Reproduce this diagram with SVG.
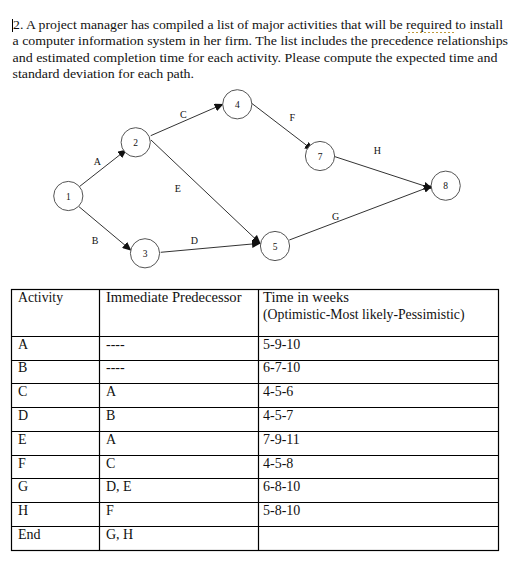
<svg xmlns="http://www.w3.org/2000/svg" width="512" height="567" viewBox="0 0 512 567">
<style>
text{font-family:"Liberation Serif","Times New Roman",serif;fill:#111}
.t{font-size:13px}
.r{font-size:14px}
.n{font-size:9.5px;text-anchor:middle}
.l{font-size:10px;text-anchor:middle}
.c{fill:#fff;stroke:#555;stroke-width:1}
.e{stroke:#333;stroke-width:1;fill:none;marker-end:url(#ah)}
.g{stroke:#000;stroke-width:1.2;fill:none}
</style>
<defs>
<marker id="ah" markerUnits="userSpaceOnUse" markerWidth="9" markerHeight="8" refX="8" refY="4" orient="auto">
<path d="M0,0 L9,4 L0,8 Z" fill="#111"/>
</marker>
</defs>
<rect width="512" height="567" fill="#fff"/>
<g id="title">
<line x1="12.5" y1="19" x2="12.5" y2="32" stroke="#000" stroke-width="1"/>
<text class="t" x="13" y="29" textLength="490" lengthAdjust="spacingAndGlyphs">2. A project manager has compiled a list of major activities that will be required to install</text>
<text class="t" x="12.5" y="45.3" textLength="495.5" lengthAdjust="spacingAndGlyphs">a computer information system in her firm. The list includes the precedence relationships</text>
<text class="t" x="12.5" y="61.5" textLength="485" lengthAdjust="spacingAndGlyphs">and estimated completion time for each activity. Please compute the expected time and</text>
<text class="t" x="12.5" y="77.7" textLength="181.5" lengthAdjust="spacingAndGlyphs">standard deviation for each path.</text>
<line x1="408" y1="32.5" x2="455" y2="32.5" stroke="#c09a3a" stroke-width="1" stroke-dasharray="2,2"/>
</g>
<g id="connectors">
<line class="e" x1="79.3" y1="186.7" x2="126" y2="150"/>
<line class="e" x1="79" y1="206.7" x2="130.7" y2="250"/>
<line class="e" x1="150.7" y1="135.7" x2="222.7" y2="104.3"/>
<line class="e" x1="151" y1="140" x2="260" y2="243.3"/>
<line class="e" x1="160.7" y1="252.3" x2="260" y2="243.3"/>
<line class="e" x1="251.7" y1="103.3" x2="312.7" y2="150"/>
<line class="e" x1="335" y1="156.7" x2="431.7" y2="188.3"/>
<line class="e" x1="289.3" y1="240" x2="431.7" y2="186"/>
<text class="l" x="97.3" y="165">A</text>
<text class="l" x="95" y="244">B</text>
<text class="l" x="183.3" y="117.5">C</text>
<text class="l" x="177.7" y="192">E</text>
<text class="l" x="194.3" y="244">D</text>
<text class="l" x="292.3" y="121">F</text>
<text class="l" x="377.3" y="153.5">H</text>
<text class="l" x="335.7" y="220">G</text>
</g>
<g id="node1"><circle class="c" cx="68.3" cy="196" r="14.6"/><text class="n" x="68.3" y="199.5">1</text></g>
<g id="node2"><circle class="c" cx="135.7" cy="142.3" r="14.6"/><text class="n" x="135.7" y="145.8">2</text></g>
<g id="node3"><circle class="c" cx="145" cy="253.3" r="14.6"/><text class="n" x="145" y="256.8">3</text></g>
<g id="node4"><circle class="c" cx="237.3" cy="104.3" r="14.6"/><text class="n" x="237.3" y="107.8">4</text></g>
<g id="node5"><circle class="c" cx="275" cy="246" r="14.6"/><text class="n" x="275" y="249.5">5</text></g>
<g id="node7"><circle class="c" cx="320" cy="156" r="14.6"/><text class="n" x="320" y="159.5">7</text></g>
<g id="node8"><circle class="c" cx="445.7" cy="185.7" r="14.6"/><text class="n" x="445.7" y="189.2">8</text></g>
<g id="table">
<rect class="g" x="11.5" y="289.5" width="487" height="261"/>
<line class="g" x1="99.5" y1="289.5" x2="99.5" y2="550.5"/>
<line class="g" x1="258.5" y1="289.5" x2="258.5" y2="550.5"/>
<line class="g" x1="11.5" y1="336.5" x2="498.5" y2="336.5"/>
<line class="g" x1="11.5" y1="360.5" x2="498.5" y2="360.5"/>
<line class="g" x1="11.5" y1="383.5" x2="498.5" y2="383.5"/>
<line class="g" x1="11.5" y1="407.5" x2="498.5" y2="407.5"/>
<line class="g" x1="11.5" y1="431.5" x2="498.5" y2="431.5"/>
<line class="g" x1="11.5" y1="455.5" x2="498.5" y2="455.5"/>
<line class="g" x1="11.5" y1="478.5" x2="498.5" y2="478.5"/>
<line class="g" x1="11.5" y1="502.5" x2="498.5" y2="502.5"/>
<line class="g" x1="11.5" y1="526.5" x2="498.5" y2="526.5"/>
<text class="r" x="18" y="302.3" textLength="45" lengthAdjust="spacingAndGlyphs">Activity</text>
<text class="r" x="106" y="302.3" textLength="135.5" lengthAdjust="spacingAndGlyphs">Immediate Predecessor</text>
<text class="r" x="263" y="302.3" textLength="86" lengthAdjust="spacingAndGlyphs">Time in weeks</text>
<text class="r" x="263" y="319" textLength="201.5" lengthAdjust="spacingAndGlyphs">(Optimistic-Most likely-Pessimistic)</text>
<text class="r" x="18" y="348.5">A</text><text class="r" x="106" y="348.5">----</text><text class="r" x="263" y="348.5">5-9-10</text>
<text class="r" x="18" y="372.3">B</text><text class="r" x="106" y="372.3">----</text><text class="r" x="263" y="372.3">6-7-10</text>
<text class="r" x="18" y="396.1">C</text><text class="r" x="106" y="396.1">A</text><text class="r" x="263" y="396.1">4-5-6</text>
<text class="r" x="18" y="419.9">D</text><text class="r" x="106" y="419.9">B</text><text class="r" x="263" y="419.9">4-5-7</text>
<text class="r" x="18" y="443.7">E</text><text class="r" x="106" y="443.7">A</text><text class="r" x="263" y="443.7">7-9-11</text>
<text class="r" x="18" y="467.5">F</text><text class="r" x="106" y="467.5">C</text><text class="r" x="263" y="467.5">4-5-8</text>
<text class="r" x="18" y="491.3">G</text><text class="r" x="106" y="491.3">D, E</text><text class="r" x="263" y="491.3">6-8-10</text>
<text class="r" x="18" y="515.1">H</text><text class="r" x="106" y="515.1">F</text><text class="r" x="263" y="515.1">5-8-10</text>
<text class="r" x="18" y="538.9">End</text><text class="r" x="106" y="538.9">G, H</text>
</g>
</svg>
